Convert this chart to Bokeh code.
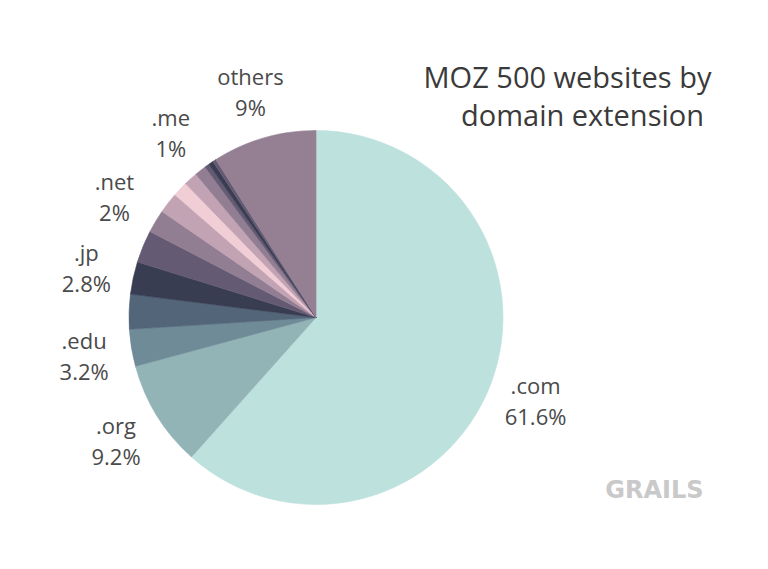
import numpy as np
from bokeh.plotting import figure
from bokeh.models import Range1d, ColumnDataSource
from bokeh.core.properties import value
from bokeh.embed import file_html
from bokeh.resources import INLINE

# ---- data ----
domains = [".com", ".org", ".edu", "", ".jp", "", ".net", "", "", "", ".me", "", "", "", "others"]
shares = [61.6, 9.2, 3.2, 3.0, 2.8, 2.8, 2.0, 1.8, 1.3, 1.2, 1.0, 0.4, 0.4, 0.3, 9.0]
share_labels = ["61.6%", "9.2%", "3.2%", "", "2.8%", "", "2%", "", "", "", "1%", "", "", "", "9%"]
slice_colors = ["#bde1dd", "#93b4b7", "#6f8b97", "#536579", "#383d52", "#655a73",
                "#927e92", "#c2a3b4", "#f1cdd5", "#c2a3b4", "#927e92", "#655a73",
                "#383d52", "#655a73", "#947f93"]
title_lines = ["MOZ 500 websites by", "domain extension"]
watermark = "GRAILS"

W, H = 752, 553
cx, cy, R = 315.5, 236.0, 187.0
label_r = 235.0

vals = np.array(shares, dtype=float)
frac = vals / vals.sum()
cum1 = np.cumsum(frac)
cum0 = cum1 - frac
start = np.pi / 2 - 2 * np.pi * cum0
end = np.pi / 2 - 2 * np.pi * cum1
mid = (start + end) / 2

src = ColumnDataSource(dict(start=start, end=end, color=slice_colors))

p = figure(width=W, height=H, output_backend="svg", toolbar_location=None,
           x_range=Range1d(0, W), y_range=Range1d(0, H), min_border=0)
p.axis.visible = False
p.grid.visible = False
p.outline_line_color = None
p.background_fill_color = "white"
p.border_fill_color = "white"

p.wedge(x=cx, y=cy, radius=R, start_angle="start", end_angle="end",
        direction="clock", fill_color="color", line_color="color",
        line_width=0.6, source=src)

# labels
idx = [i for i, d in enumerate(domains) if d]
lx = [cx + label_r * np.cos(mid[i]) for i in idx]
ly = [cy + label_r * np.sin(mid[i]) for i in idx]
lab_src = ColumnDataSource(dict(
    x=lx,
    y1=[y + 16 for y in ly],
    y2=[y - 15 for y in ly],
    name=[domains[i] for i in idx],
    pct=[share_labels[i] for i in idx],
))
common = dict(text_font=value("Open Sans"), text_font_size="22px",
              text_color="#4a4a4a", text_align="center", text_baseline="alphabetic")
p.text(x="x", y="y1", text="name", source=lab_src, **common)
p.text(x="x", y="y2", text="pct", source=lab_src, **common)

# title
p.text(x=[567, 582], y=[477, 439], text=title_lines,
       text_font=value("Open Sans"), text_font_size="29px",
       text_color="#3a3a3a", text_align="center", text_baseline="alphabetic")

# watermark
p.text(x=[654], y=[64], text=[watermark], text_font=value("DejaVu Sans"),
       text_font_size="24px", text_font_style="bold", text_color="#c9c9c9",
       text_align="center", text_baseline="middle")

open("out.html", "w").write(file_html(p, INLINE))
